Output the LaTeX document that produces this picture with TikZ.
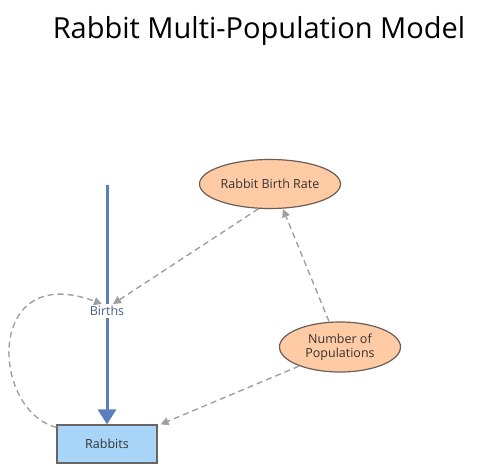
\documentclass[tikz,border=0pt]{standalone}
\usepackage{fontspec}
\setmainfont{Open Sans}
\usetikzlibrary{arrows.meta, shapes.geometric}
\definecolor{flowblue}{HTML}{5B7EBD}
\definecolor{stockfill}{HTML}{A8D5F7}
\definecolor{auxfill}{HTML}{FFCBA4}
\definecolor{auxline}{HTML}{6A5D58}
\definecolor{linkgray}{HTML}{A0A0A0}
\definecolor{labelblue}{HTML}{4A5E8E}
\begin{document}
\begin{tikzpicture}[x=1pt, y=-1pt,
    stock/.style={draw=gray!80!black, line width=1.2pt, fill=stockfill, minimum width=100pt, minimum height=38pt, text=black!80, font=\fontsize{12.5}{14}\selectfont},
    aux/.style={draw=auxline, line width=1.2pt, fill=auxfill, ellipse, inner sep=0pt, text=black!80, align=center, font=\fontsize{12.5}{14}\selectfont},
    link/.style={draw=linkgray, line width=1.4pt, dash pattern=on 6pt off 4pt, -{Triangle[width=8pt,length=8pt]}},
    flow/.style={draw=flowblue, line width=3pt}]

            \useasboundingbox (0,0) rectangle (501,466);

            \node[font=\fontsize{29}{34}\selectfont] (title) at (259,31) {Rabbit Multi-Population Model};

            \node[stock] (rabbits) at (107,444) {Rabbits};
            \node[aux, minimum width=141pt, minimum height=49pt] (rate) at (270,184) {Rabbit Birth Rate};
            \node[aux, minimum width=121pt, minimum height=50pt] (pop) at (340,347) {Number of\\Populations};
            \node[fill=white, inner sep=2pt, text=labelblue, font=\fontsize{12.5}{14}\selectfont] (births) at (107,311) {Births};
            \coordinate (source) at (107,185);

            \draw[flow] (source) -- (births);
            \draw[flow, -{Triangle[width=18pt,length=15pt]}] (births) -- (rabbits);

            \draw[link] (rate.245) -- ([xshift=6pt]births.north);
            \draw[link] ([xshift=-11pt]pop.north) -- ([xshift=13pt]rate.south);
            \draw[link] (pop.205) -- ([xshift=3pt]rabbits.north east);
            \draw[link] ([yshift=-3pt]rabbits.north west) .. controls (-10,410) and (-15,260) .. ([xshift=-5pt]births.north);

        \end{tikzpicture}
\end{document}
